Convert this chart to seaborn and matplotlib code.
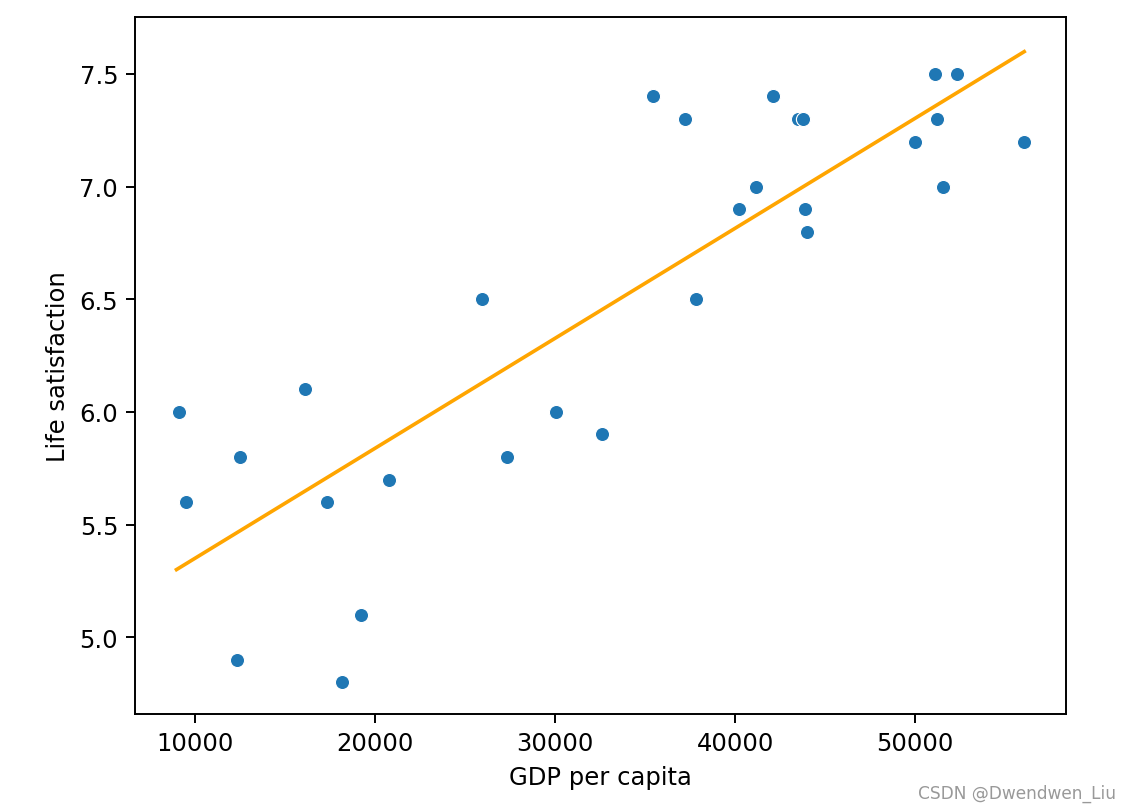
import matplotlib
matplotlib.use("Agg")
import matplotlib.pyplot as plt
import seaborn as sns
import numpy as np
import pandas as pd

gdp = [9110, 9500, 12500, 12330, 16100, 17330, 18170, 19220, 20780, 25940,
       27330, 30060, 32610, 35440, 37220, 37830, 40220, 41170, 42110, 43500,
       43780, 43890, 44000, 50000, 51110, 51220, 51560, 52330, 56060]
life = [6.0, 5.6, 5.8, 4.9, 6.1, 5.6, 4.8, 5.1, 5.7, 6.5,
        5.8, 6.0, 5.9, 7.4, 7.3, 6.5, 6.9, 7.0, 7.4, 7.3,
        7.3, 6.9, 6.8, 7.2, 7.5, 7.3, 7.0, 7.5, 7.2]
theta0, theta1 = 4.863, 4.88e-5

df = pd.DataFrame({"GDP per capita": gdp, "Life satisfaction": life})
fig = plt.figure(figsize=(6.44, 4.634), dpi=175)
ax = fig.add_axes([0.12, 0.118, 0.826, 0.86])
sns.scatterplot(data=df, x="GDP per capita", y="Life satisfaction", ax=ax, s=34)
xs = np.array([min(gdp) - 150, max(gdp)])
sns.lineplot(x=xs, y=theta0 + theta1 * xs, color="orange", ax=ax)
ax.set_xlim(6667, 58390)
ax.set_ylim(4.658, 7.753)
fig.text(0.99, 0.01, "CSDN @Dwendwen_Liu", ha="right", va="bottom", fontsize=7, color="#999999")
fig.savefig("out.png")
